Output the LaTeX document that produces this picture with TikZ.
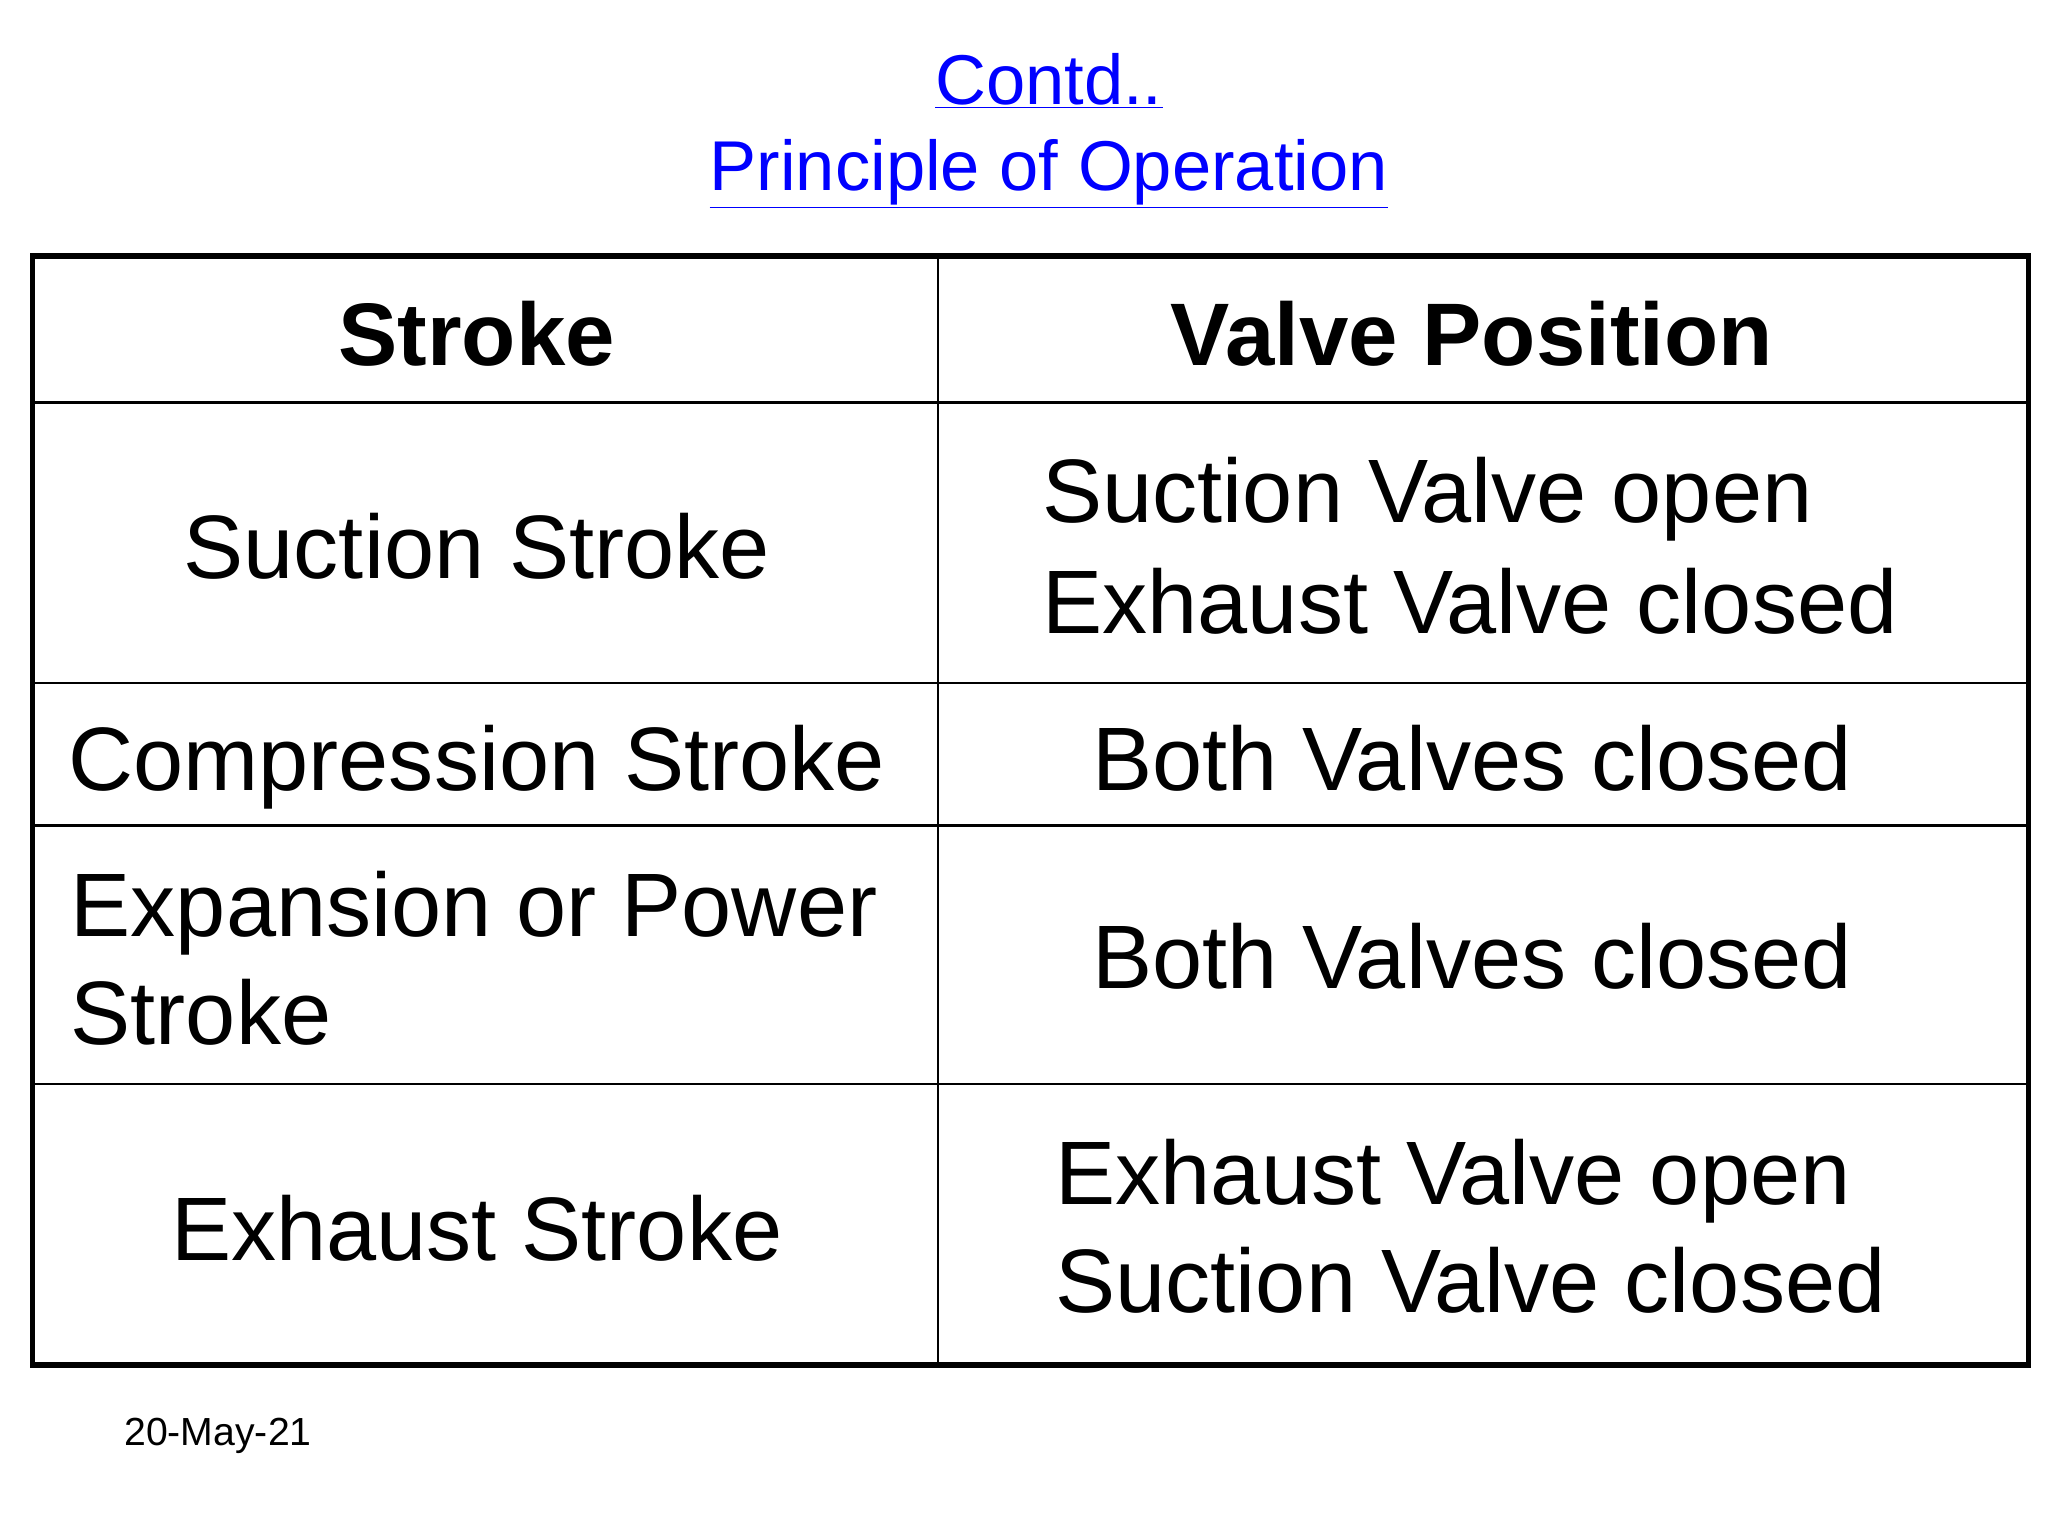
\documentclass[tikz,border=0pt]{standalone}
\usepackage{fontspec}
\setmainfont{Liberation Sans}
\begin{document}
\begin{tikzpicture}[x=1pt,y=-1pt,
  body/.style={inner sep=0pt,font=\fontsize{69}{83}\selectfont},
  head/.style={inner sep=0pt,font=\fontsize{68}{80}\selectfont\bfseries},
  ttl/.style={inner sep=0pt,text=blue,font=\fontsize{54}{66}\selectfont}]
\useasboundingbox[fill=white] (0,0) rectangle (1568,1176);
\node[ttl,anchor=base] (t1) at (803,80) {\underline{Contd..}};
\node[ttl,anchor=base] (t2) at (803,146) {\underline{Principle of Operation}};
% grid
\draw[line width=2pt] (718,196) -- (718,1045);
\foreach \y in {308,523,632,830} \draw[line width=2pt] (25,\y) -- (1553,\y);
\draw[line width=4pt] (25,196) rectangle (1553,1045);
\node[head,anchor=base] (h1) at (365,280) {Stroke};
\node[head,anchor=base] (h2) at (1127,280) {Valve Position};
\node[body,anchor=base] (s1) at (365,443) {Suction Stroke};
\node[body,anchor=base west] (v1a) at (798,400) {Suction Valve open};
\node[body,anchor=base west] (v1b) at (798,485) {Exhaust Valve closed};
\node[body,anchor=base] (s2) at (365,605) {Compression Stroke};
\node[body,anchor=base] (v2) at (1127,605) {Both Valves closed};
\node[body,anchor=base west] (s3a) at (54,717) {Expansion or Power};
\node[body,anchor=base west] (s3b) at (54,800) {Stroke};
\node[body,anchor=base] (v3) at (1127,757) {Both Valves closed};
\node[body,anchor=base] (s4) at (365,965) {Exhaust Stroke};
\node[body,anchor=base west] (v4a) at (808,922) {Exhaust Valve open};
\node[body,anchor=base west] (v4b) at (808,1005) {Suction Valve closed};
\node[inner sep=0pt,anchor=base west,font=\fontsize{30}{36}\selectfont] (d) at (95,1107) {20-May-21};
\end{tikzpicture}
\end{document}
